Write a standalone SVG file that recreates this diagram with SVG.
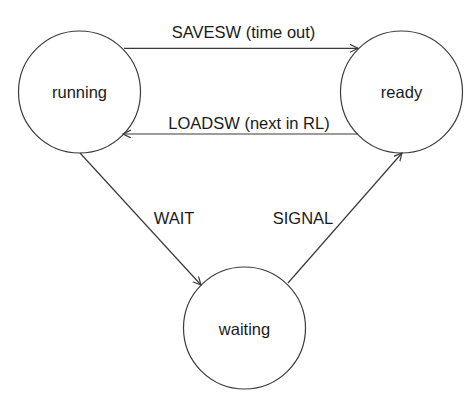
<svg xmlns="http://www.w3.org/2000/svg" width="474" height="412" viewBox="0 0 474 412">
<style>
.node{fill:#fff;stroke:#3a3a3a;stroke-width:1.2}
.lbl{font-family:"Liberation Sans",Arial,sans-serif;font-size:16.5px;fill:#1a1a1a;text-anchor:middle}
.edge{fill:none;stroke:#3a3a3a;stroke-width:1.2;marker-end:url(#arr)}
</style>
<defs>
<marker id="arr" markerWidth="10" markerHeight="10" refX="8" refY="4" orient="auto" markerUnits="userSpaceOnUse">
<path d="M0,0 L8,4 L0,8" fill="none" stroke="#3a3a3a" stroke-width="1.2"/>
</marker>
</defs>
<rect width="474" height="412" fill="#fff"/>
<g id="running"><circle class="node" cx="79.5" cy="92" r="61"/><text class="lbl" x="79.5" y="98">running</text></g>
<g id="ready"><circle class="node" cx="401.5" cy="92" r="61"/><text class="lbl" x="401.5" y="98">ready</text></g>
<g id="waiting"><circle class="node" cx="244.5" cy="328" r="61"/><text class="lbl" x="244.5" y="335">waiting</text></g>
<g id="connectors">
<line class="edge" x1="124" y1="48.3" x2="358" y2="48.3"/>
<text class="lbl" x="243.5" y="38">SAVESW (time out)</text>
<line class="edge" x1="358" y1="134" x2="123" y2="134"/>
<text class="lbl" x="249" y="129">LOADSW (next in RL)</text>
<line class="edge" x1="80" y1="153" x2="201" y2="285"/>
<text class="lbl" x="174" y="224">WAIT</text>
<line class="edge" x1="288" y1="283" x2="402" y2="153"/>
<text class="lbl" x="303" y="224">SIGNAL</text>
</g>
</svg>
